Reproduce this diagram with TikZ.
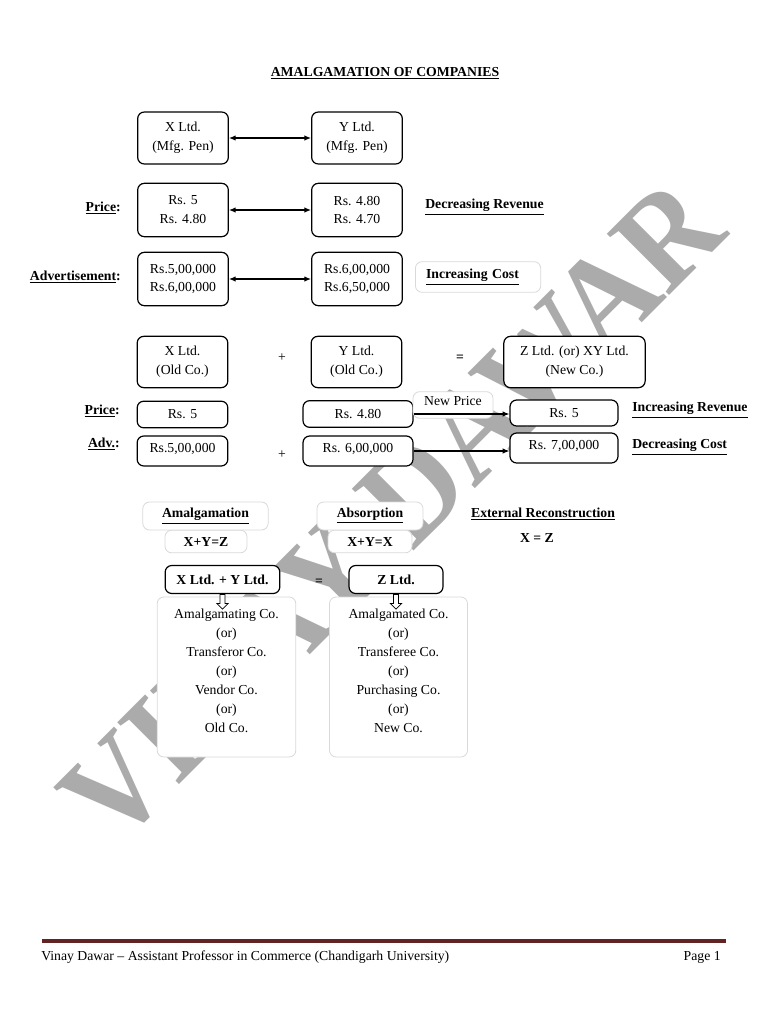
\documentclass[tikz,border=0pt]{standalone}
\usepackage{fontspec}
\setmainfont{Liberation Serif}
\usetikzlibrary{arrows.meta, shapes.arrows}
\definecolor{footred}{HTML}{622423}
\newcommand\bodysize{\fontsize{10.3}{14.2}\selectfont}
\newcommand\ulbf[1]{\textbf{\underline{#1}}}
\tikzset{
  firm/.style={draw, line width=0.9pt, rounded corners=5pt, fill=white, align=center, inner sep=0pt, font=\bodysize},
  faint/.style={draw=black!15, line width=0.6pt, rounded corners=5pt, fill=white, align=center, inner sep=0pt, font=\bodysize},
  txt/.style={inner sep=0pt, font=\bodysize},
  link/.style={line width=0.8pt, -{Latex[length=5pt,width=4pt]}},
  twoway/.style={line width=0.8pt, {Latex[length=5pt,width=4pt]}-{Latex[length=5pt,width=4pt]}},
  hollow/.style={draw, fill=white, line width=0.6pt, single arrow, shape border rotate=270, minimum height=11pt, inner sep=1.6pt, single arrow head extend=2.4pt}
}
\begin{document}
\begin{tikzpicture}[x=0.75pt, y=-0.75pt]
\useasboundingbox (0,0) rectangle (768,1024);
\fill[white] (0,0) rectangle (768,1024);
\node[rotate=45, xscale=0.92, text=black!33, font=\fontsize{100}{100}\selectfont\bfseries] (mark) at (392,512) {VINAY DAWAR};

\node[txt, font=\fontsize{10.3}{12}\selectfont] (title) at (385,73) {\ulbf{AMALGAMATION OF COMPANIES}};

\node[firm, minimum width=68pt, minimum height=39pt] (xmfg) at (183,138) {X Ltd.\\(Mfg. Pen)};
\node[firm, minimum width=68pt, minimum height=39pt] (ymfg) at (357,138) {Y Ltd.\\(Mfg. Pen)};
\draw[twoway] (xmfg) -- (ymfg);

\node[txt, anchor=east] (pricea) at (121,208) {\ulbf{Price}\textbf{:}};
\node[firm, minimum width=68pt, minimum height=40pt] (xprice) at (183,210) {Rs. 5\\Rs. 4.80};
\node[firm, minimum width=68pt, minimum height=40pt] (yprice) at (357,210) {Rs. 4.80\\Rs. 4.70};
\draw[twoway] (xprice) -- (yprice);
\node[txt, anchor=west] (decrev) at (425,207) {\ulbf{Decreasing Revenue}};

\node[txt, anchor=east] (adva) at (121,277) {\ulbf{Advertisement}\textbf{:}};
\node[firm, minimum width=68pt, minimum height=40pt] (xadv) at (183,279) {Rs.5,00,000\\Rs.6,00,000};
\node[firm, minimum width=68pt, minimum height=40pt] (yadv) at (357,279) {Rs.6,00,000\\Rs.6,50,000};
\draw[twoway] (xadv) -- (yadv);
\node[faint, anchor=west, inner xsep=8pt, minimum height=23pt, text width=78pt, align=left] (inccost) at (415,277) {\ulbf{Increasing Cost}};

\node[firm, minimum width=68pt, minimum height=38.5pt] (xold) at (182.5,362) {X Ltd.\\(Old Co.)};
\node[txt] (plusa) at (282,358) {+};
\node[firm, minimum width=68pt, minimum height=38.5pt] (yold) at (356.5,362) {Y Ltd.\\(Old Co.)};
\node[txt] (eqa) at (460,358) {\textbf{=}};
\node[firm, minimum width=106pt, minimum height=38.5pt] (znew) at (574.5,362) {Z Ltd. (or) XY Ltd.\\(New Co.)};

\node[txt, anchor=east] (priceb) at (120,411) {\ulbf{Price}\textbf{:}};
\node[firm, minimum width=68pt, minimum height=20pt] (xrate) at (182.5,414.5) {Rs. 5};
\node[firm, minimum width=82.5pt, minimum height=20pt] (yrate) at (358,414) {Rs. 4.80};
\node[faint, minimum width=60pt, minimum height=20pt, text depth=6pt] (newp) at (453,405) {New Price};
\node[firm, minimum width=81pt, minimum height=19.5pt] (zrate) at (564,413) {Rs. 5};
\draw[link] (yrate.east) -- (yrate.east -| zrate.west);
\node[txt, anchor=west] (increv) at (632,410) {\ulbf{Increasing Revenue}};

\node[txt, anchor=east] (advb) at (120,444) {\ulbf{Adv.}\textbf{:}};
\node[firm, minimum width=68pt, minimum height=22.5pt, text depth=5pt] (xspend) at (182.5,451) {Rs.5,00,000};
\node[txt] (plusb) at (282,455) {+};
\node[firm, minimum width=82.5pt, minimum height=22.5pt, text depth=5pt] (yspend) at (358,451) {Rs. 6,00,000};
\node[firm, minimum width=81pt, minimum height=22.5pt, text depth=4pt] (zspend) at (564,448) {Rs. 7,00,000};
\draw[link] (yspend.east) -- (yspend.east -| zspend.west);
\node[txt, anchor=west] (deccost) at (632,447) {\ulbf{Decreasing Cost}};

\node[faint, minimum width=61.5pt, minimum height=17pt] (amalf) at (206,541.5) {\textbf{X+Y=Z}};
\node[faint, minimum width=94pt, minimum height=21pt] (amal) at (205.5,516) {\ulbf{Amalgamation}};
\node[faint, minimum width=63pt, minimum height=17pt] (absf) at (370,541.5) {\textbf{X+Y=X}};
\node[faint, minimum width=79.5pt, minimum height=21pt] (abs) at (370,516) {\ulbf{Absorption}};
\node[txt] (extr) at (543,514) {\ulbf{External Reconstruction}};
\node[txt] (extrf) at (537,538) {\textbf{X = Z}};

\node[faint, minimum width=104pt, minimum height=120pt, text depth=9pt] (oldlist) at (226.5,677) {Amalgamating Co.\\(or)\\Transferor Co.\\(or)\\Vendor Co.\\(or)\\Old Co.};
\node[faint, minimum width=103.5pt, minimum height=120pt, text depth=9pt] (newlist) at (398.5,677) {Amalgamated Co.\\(or)\\Transferee Co.\\(or)\\Purchasing Co.\\(or)\\New Co.};
\node[firm, minimum width=86pt, minimum height=21pt, font=\bodysize\bfseries] (xyltd) at (222.5,579.5) {X Ltd. + Y Ltd.};
\node[txt] (eqb) at (319,582) {\textbf{=}};
\node[firm, minimum width=70.5pt, minimum height=21pt, font=\bodysize\bfseries] (zltd) at (396,579.5) {Z Ltd.};
\foreach \b in {xyltd, zltd}
  \node[hollow, anchor=tail] (\b-down) at (\b.south) {};

\draw[line width=3pt, footred] (42,941) -- (726,941);
\node[txt, anchor=west, font=\fontsize{10.3}{12}\selectfont] (foot) at (41,957) {Vinay Dawar – Assistant Professor in Commerce (Chandigarh University)};
\node[txt, anchor=east, font=\fontsize{10.3}{12}\selectfont] (page) at (721,957) {Page 1};
\end{tikzpicture}
\end{document}
